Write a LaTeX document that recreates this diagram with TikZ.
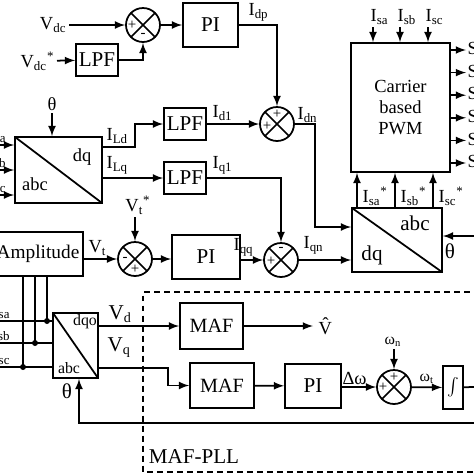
\documentclass[tikz,border=0pt]{standalone}
\usepackage{fontspec}
\setmainfont{Liberation Serif}
\usetikzlibrary{calc}

\def\pfeil#1#2{
	\draw[->] #1 -- #2;
}
\def\vz#1#2#3#4{
	\node[sgn] (#1) at ([shift={#3}]#2) {#4};
}

\tikzset{
	blk/.style={draw,inner sep=0pt},
	big/.style={font=\fontsize{12}{14}\selectfont},
	conv/.style={blk,path picture={\draw (path picture bounding box.north west) -- (path picture bounding box.south east);}},
	summ/.style={circle,draw,inner sep=0pt,minimum size=0.68cm,
		path picture={\draw (path picture bounding box.north west) -- (path picture bounding box.south east)
			(path picture bounding box.south west) -- (path picture bounding box.north east);}},
	sgn/.style={inner sep=0pt,font=\fontsize{8.5}{9}\selectfont},
	lbl/.style={inner sep=1pt},
	small/.style={inner sep=1pt,font=\fontsize{9}{10}\selectfont}
}

\begin{document}
\begin{tikzpicture}[x=0.02cm,y=-0.02cm,>=latex,line width=1pt,
	font=\fontsize{10.5}{12.2}\selectfont]
\useasboundingbox (0,0) rectangle (474,474);
% dc link
\node[lbl,anchor=east] (vdc) at (69,25) {V\textsubscript{dc}};
\node[lbl,anchor=east] (vdcref) at (57,61) {V\textsubscript{dc}\textsuperscript{*}};
\node[blk,big,minimum width=0.84cm,minimum height=0.64cm] (lpf1) at (97,60) {LPF};
\node[summ] (sum1) at (143,25) {};
\node[blk,big,minimum width=1.1cm,minimum height=0.88cm] (pi1) at (210.5,25) {PI};
\pfeil{(vdc)}{(sum1)}
\pfeil{(vdcref)}{(lpf1)}
\draw[->] (lpf1) -| (sum1);
\pfeil{(sum1)}{(pi1)}
\vz{s1a}{sum1}{(-11,0)}{+}
\vz{s1b}{sum1}{(0,10)}{-}
\node[summ] (sum2) at (277,124) {};
\draw[->] (pi1) -| (sum2);
\node[lbl,anchor=south west] (idp) at (246,24) {I\textsubscript{dp}};
\vz{s2a}{sum2}{(0,-10)}{+}
\vz{s2b}{sum2}{(-10,2)}{+}
% load current abc/dq
\node[conv,minimum width=1.74cm,minimum height=1.32cm] (abcdq1) at (58.5,170) {};
\node[lbl] (dq1) at (82,157) {dq};
\node[lbl] (abc1) at (35,184) {abc};
\node[lbl] (th1) at (52,104) {θ};
\draw[->] (th1.south) -- (th1.south |- abcdq1.north);
\foreach \y/\n in {145/a,170/b,195/c}{
	\coordinate (in\n) at (0,\y);
	\draw[->] (in\n) -- (in\n -| abcdq1.west);
	\node[lbl,anchor=south east] (il\n) at (9,\y) {I\textsubscript{L\n}};
}
\node[blk,big,minimum width=0.84cm,minimum height=0.64cm] (lpf2) at (185,124) {LPF};
\node[blk,big,minimum width=0.84cm,minimum height=0.64cm] (lpf3) at (185,178) {LPF};
\coordinate (ild) at (102,147);
\draw[->] (ild) -- (135,147) |- (lpf2.west);
\node[lbl,anchor=south west] (ildl) at (104,146) {I\textsubscript{Ld}};
\pfeil{(abcdq1.east |- lpf3)}{(lpf3)}
\node[lbl,anchor=south west] (ilql) at (104,177) {I\textsubscript{Lq}};
\pfeil{(lpf2)}{(sum2)}
\node[lbl,anchor=south west] (id1) at (210,123) {I\textsubscript{d1}};
\node[summ] (sum4) at (281,260) {};
\draw[->] (lpf3) -| (sum4);
\node[lbl,anchor=south west] (iq1) at (210,177) {I\textsubscript{q1}};
% terminal voltage loop
\node[blk,font=\fontsize{11}{13}\selectfont,minimum width=1.8cm,minimum height=0.88cm] (amp) at (38,254) {Amplitude};
\node[summ] (sum3) at (135,259) {};
\node[blk,big,minimum width=1.36cm,minimum height=0.88cm] (pi2) at (206,257) {PI};
\pfeil{(amp.east |- sum3)}{(sum3)}
\node[lbl,anchor=south west] (vt) at (86,258) {V\textsubscript{t}};
\node[lbl,anchor=south] (vtref) at (138,217) {V\textsubscript{t}\textsuperscript{*}};
\pfeil{(sum3 |- vtref.south)}{(sum3)}
\vz{s3a}{sum3}{(-10,0)}{-}
\vz{s3b}{sum3}{(0,10)}{+}
\pfeil{(sum3)}{(sum3 -| pi2.west)}
\pfeil{(pi2.east |- sum4)}{(sum4)}
\node[lbl,anchor=south west] (iqq) at (231,259) {I\textsubscript{qq}};
\vz{s4a}{sum4}{(0,-11)}{-}
\vz{s4b}{sum4}{(-10,1)}{+}
% reference currents
\node[conv,minimum width=1.8cm,minimum height=1.28cm] (abcdq2) at (397,240) {};
\node[lbl,big] (abc2) at (415,223) {abc};
\node[lbl,big] (dq2) at (372,255) {dq};
\pfeil{(sum4)}{(sum4 -| abcdq2.west)}
\node[lbl,anchor=south west] (iqn) at (301,257) {I\textsubscript{qn}};
\coordinate (c1) at (315,227);
\draw[->] (sum2) -| (c1) -- (c1 -| abcdq2.west);
\node[lbl,anchor=south west] (idn) at (295,125) {I\textsubscript{dn}};
\coordinate (th2in) at (474,236);
\pfeil{(th2in)}{(th2in -| abcdq2.east)}
\node[lbl,big] (th2) at (450,251) {θ};
% PWM
\node[blk,minimum width=1.98cm,minimum height=2.58cm,align=center] (pwm) at (400.5,107.5) {Carrier\\based\\PWM};
\foreach \x/\n in {373/sa,400/sb,428/sc}{
	\draw[->] (\x,27) -- (\x,0 |- pwm.north);
	\node[lbl,anchor=south west] (i\n) at ({\x-5},27) {I\textsubscript{\n}};
}
\foreach \x/\n in {357/sa,395/sb,433/sc}{
	\draw[->] (\x,0 |- abcdq2.north) -- (\x,0 |- pwm.south);
	\node[lbl,anchor=west] (i\n ref) at ({\x+3},196) {I\textsubscript{\n}\textsuperscript{*}};
}
\foreach \y [count=\i] in {50,72.6,95.2,117.8,140.4,163}{
	\draw[->] (pwm.east |- 0,\y) -- (466,\y);
	\node[lbl,anchor=west] (s\i) at (465,\y) {S\textsubscript{\i}};
}
% PLL
\node[conv,minimum width=0.9cm,minimum height=1.3cm] (abcdq3) at (75.5,345.5) {};
\node[small] (dqo3) at (85,322) {dqo};
\node[small] (abc3) at (69,368) {abc};
\foreach \x/\y/\n in {47/321/sa,35/343/sb,23/367/sc}{
	\coordinate (v\n) at (0,\y);
	\draw (v\n) -- (v\n -| abcdq3.west);
	\draw (\x,0 |- amp.south) -- (\x,\y);
	\fill (\x,\y) circle (3);
	\node[lbl,anchor=south east] (vl\n) at (13,\y) {V\textsubscript{\n}};
}
\node[blk,font=\fontsize{11.5}{13}\selectfont,minimum width=1.26cm,minimum height=0.92cm] (maf1) at (211.5,326) {MAF};
\node[blk,font=\fontsize{11.5}{13}\selectfont,minimum width=1.28cm,minimum height=0.9cm] (maf2) at (222,385.5) {MAF};
\pfeil{(abcdq3.east |- maf1)}{(maf1)}
\node[lbl,big,anchor=south west] (vd) at (106,325) {V\textsubscript{d}};
\coordinate (vq) at (98,368);
\draw[->] (vq) -- (168,368) |- (maf2.west);
\node[lbl,big,anchor=west] (vql) at (105,348) {V\textsubscript{q}};
\coordinate (vhat) at (313,326);
\pfeil{(maf1)}{(vhat)}
\node[lbl,anchor=west] (vhatl) at (316,326) {\^{V}};
\node[blk,big,minimum width=1.12cm,minimum height=0.88cm] (pi3) at (313,386) {PI};
\pfeil{(maf2)}{(pi3)}
\node[summ] (sum5) at (394,387) {};
\pfeil{(pi3.east |- sum5)}{(sum5)}
\node[lbl,anchor=south west] (dw) at (340,387) {Δω};
\node[small] (wn) at (393,342) {ω\textsubscript{n}};
\pfeil{(sum5 |- wn.south)}{(sum5)}
\vz{s5a}{sum5}{(0,-10)}{+}
\vz{s5b}{sum5}{(-11,0)}{+}
\node[blk,minimum width=0.4cm,minimum height=0.86cm] (integ) at (453,387.5) {$\int$};
\pfeil{(sum5)}{(integ)}
\node[small,anchor=south west] (wt) at (417,386) {ω\textsubscript{t}};
\coordinate (th3) at (474,387);
\draw (integ) -- (th3);
\coordinate (fb) at (474,423);
\draw[->] (fb) -| (79,0 |- abcdq3.south);
\node[lbl,big] (th3l) at (67,391) {θ};
% MAF-PLL frame
\draw[dash pattern=on 3.4pt off 2.3pt] (480,292) -- (143,292) -- (143,472) -- (480,472);
\node[lbl,big] (pll) at (194,457) {MAF-PLL};
\end{tikzpicture}
\end{document}
